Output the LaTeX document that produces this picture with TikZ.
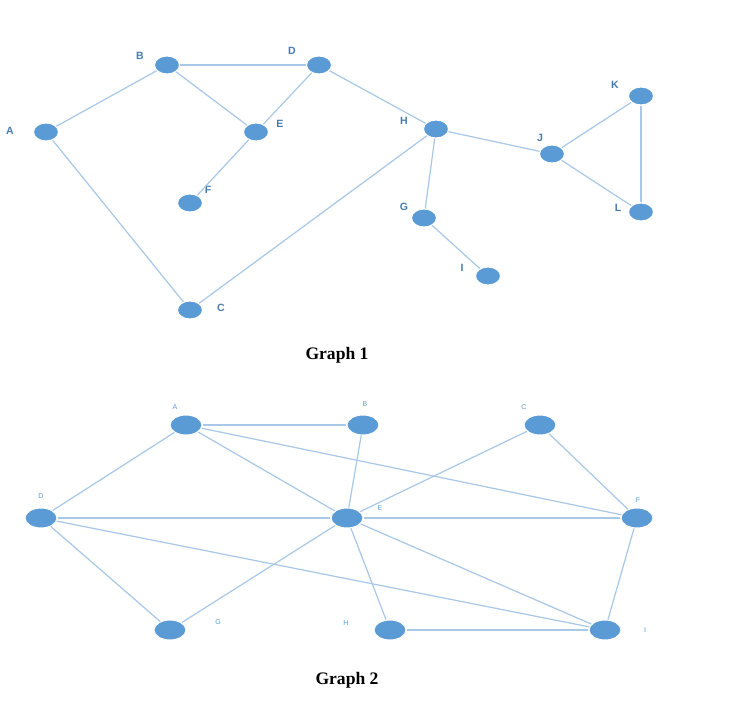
\documentclass[tikz,border=0pt]{standalone}
\usepackage{fontspec}
\usetikzlibrary{shapes.geometric}
\setmainfont{Liberation Serif}
\newfontfamily\lab{Liberation Sans}
\definecolor{nd}{HTML}{5B9BD5}
\definecolor{ed}{HTML}{A9C8E8}
\begin{document}
\begin{tikzpicture}[x=0.02cm,y=-0.02cm,
 v/.style={ellipse,fill=nd,draw=white,line width=0.6pt,minimum width=0.5cm,minimum height=0.36cm,inner sep=0},
 w/.style={ellipse,fill=nd,draw=white,line width=0.6pt,minimum width=0.64cm,minimum height=0.4cm,inner sep=0},
 la/.style={font=\lab\bfseries\fontsize{6}{7}\selectfont,text=nd!80!black},
 lb/.style={font=\lab\fontsize{4}{5}\selectfont,text=nd},
 e/.style={draw=ed,line width=0.7pt}]
\useasboundingbox (0,0) rectangle (738,710);
% Graph 1
\node[v] (A) at (46,132) {}; \node[la] (lA) at (10,131) {A};
\node[v] (B) at (167,65) {}; \node[la] (lB) at (140,56) {B};
\node[v] (D) at (319,65) {}; \node[la] (lD) at (292,51) {D};
\node[v] (E) at (256,132) {}; \node[la] (lE) at (280,124) {E};
\node[v] (F) at (190,203) {}; \node[la] (lF) at (208,190) {F};
\node[v] (C) at (190,310) {}; \node[la] (lC) at (221,308) {C};
\node[v] (H) at (436,129) {}; \node[la] (lH) at (404,121) {H};
\node[v] (G) at (424,218) {}; \node[la] (lG) at (404,207) {G};
\node[v] (I) at (488,276) {}; \node[la] (lI) at (462,268) {I};
\node[v] (J) at (552,154) {}; \node[la] (lJ) at (540,138) {J};
\node[v] (K) at (641,96) {}; \node[la] (lK) at (615,85) {K};
\node[v] (L) at (641,212) {}; \node[la] (lL) at (618,208) {L};
\foreach \a/\b in {A/B,B/D,B/E,D/E,E/F,A/C,C/H,D/H,H/J,H/G,G/I,J/K,J/L,K/L}
  \path[e] (\a) -- (\b);
\node[font=\bfseries\fontsize{10}{12}\selectfont] (t1) at (337,355) {Graph 1};
% Graph 2
\node[w] (a) at (186,425) {}; \node[lb] (la) at (175,407) {A};
\node[w] (b) at (363,425) {}; \node[lb] (lb) at (365,404) {B};
\node[w] (c) at (540,425) {}; \node[lb] (lc) at (524,407) {C};
\node[w] (d) at (41,518) {}; \node[lb] (ld) at (41,496) {D};
\node[w] (e) at (347,518) {}; \node[lb] (le) at (380,508) {E};
\node[w] (f) at (637,518) {}; \node[lb] (lf) at (638,500) {F};
\node[w] (g) at (170,630) {}; \node[lb] (lg) at (218,622) {G};
\node[w] (h) at (390,630) {}; \node[lb] (lh) at (346,623) {H};
\node[w] (i) at (605,630) {}; \node[lb] (li) at (645,630) {I};
\foreach \a/\b in {a/b,a/d,a/e,a/f,b/e,c/e,c/f,d/e,d/g,d/i,e/f,e/g,e/h,e/i,f/i,h/i}
  \path[e] (\a) -- (\b);
\node[font=\bfseries\fontsize{10}{12}\selectfont] (t2) at (347,680) {Graph 2};
\end{tikzpicture}
\end{document}
